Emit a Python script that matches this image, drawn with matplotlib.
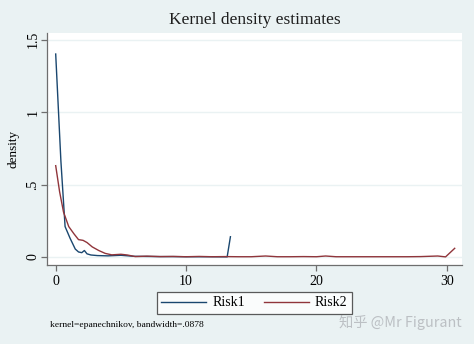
import matplotlib
matplotlib.use("Agg")
import matplotlib.pyplot as plt
from matplotlib.lines import Line2D

# Kernel density estimates of the two risk measures
risk1_x = [0.0, 0.4, 0.72, 1.1, 1.5, 1.75, 2.0, 2.2, 2.4, 2.7, 3.2, 4.0, 5.0,
           6.0, 7.0, 8.0, 9.0, 10.0, 11.0, 12.0, 13.15, 13.4]
risk1_y = [1.40, 0.66, 0.21, 0.13, 0.055, 0.035, 0.03, 0.045, 0.022, 0.014,
           0.01, 0.008, 0.012, 0.005, 0.004, 0.003, 0.003, 0.002, 0.002,
           0.002, 0.001, 0.14]

risk2_x = [0.0, 0.3, 0.6, 1.0, 1.4, 1.75, 2.1, 2.4, 2.8, 3.3, 3.8, 4.3, 5.0,
           5.5, 6.1, 7.0, 8.0, 9.0, 10.0, 11.0, 12.0, 13.0, 14.0, 15.0, 16.1,
           17.0, 18.0, 19.0, 20.0, 20.7, 21.5, 23.0, 24.0, 25.0, 26.0, 27.0,
           28.0, 29.3, 29.9, 30.6]
risk2_y = [0.63, 0.45, 0.31, 0.21, 0.16, 0.12, 0.115, 0.10, 0.07, 0.045,
           0.025, 0.015, 0.019, 0.014, 0.003, 0.006, 0.003, 0.004, 0.002,
           0.004, 0.002, 0.003, 0.002, 0.002, 0.007, 0.002, 0.002, 0.003,
           0.002, 0.007, 0.002, 0.002, 0.002, 0.002, 0.002, 0.002, 0.003,
           0.007, 0.001, 0.06]

series_names = ["Risk1", "Risk2"]
xticks = [0, 10, 20, 30]
yticks = [0, 0.5, 1, 1.5]
ytick_labels = ["0", ".5", "1", "1.5"]

title = "Kernel density estimates"
ylabel = "density"
note = "kernel=epanechnikov, bandwidth=.0878"

navy = "#1a476f"
maroon = "#90353b"
bg = "#eaf2f3"
serif = ["Liberation Serif", "DejaVu Serif"]

W, H = 474, 344
fig = plt.figure(figsize=(W / 100, H / 100), dpi=100, facecolor=bg)

left, right, top, bottom = 47, 462, 33, 265
ax = fig.add_axes([left / W, 1 - bottom / H, (right - left) / W, (bottom - top) / H])
ax.set_facecolor("white")

ax.plot(risk1_x, risk1_y, color=navy, lw=1.0, zorder=3)
ax.plot(risk2_x, risk2_y, color=maroon, lw=1.0, zorder=4)

ax.set_xlim(-0.667, 31.16)
ax.set_ylim(-0.055, 1.545)

ax.set_xticks(xticks)
ax.set_xticklabels([str(t) for t in xticks], fontfamily=serif, fontsize=10)
ax.set_yticks(yticks)
ax.set_yticklabels(ytick_labels, fontfamily=serif, fontsize=10,
                   rotation=90, va="center")
for y in yticks:
    ax.axhline(y, color=bg, lw=1.0, zorder=1)

for side in ("top", "right"):
    ax.spines[side].set_visible(False)
for side in ("left", "bottom"):
    ax.spines[side].set_color("#6e6e6e")
    ax.spines[side].set_linewidth(0.9)
ax.tick_params(axis="x", color="#6e6e6e", length=4, width=0.9,
               labelcolor="black", pad=3)
ax.tick_params(axis="y", color="#6e6e6e", length=4.5, width=0.9,
               labelcolor="black", pad=1)

ax.set_ylabel(ylabel, fontfamily=serif, fontsize=9.5)
ax.yaxis.set_label_coords((20 - left) / (right - left), 0.5)

fig.text(0.5 * (left + right) / W, 1 - 20 / H, title, ha="center", va="center",
         fontfamily=serif, fontsize=12.5, color="#1e1e1e")

handles = [Line2D([], [], color=navy, lw=1.0), Line2D([], [], color=maroon, lw=1.0)]
leg = fig.legend(handles, series_names, loc="center",
                 bbox_to_anchor=(254.5 / W, 1 - 303 / H), ncol=2,
                 prop={"family": serif, "size": 10}, frameon=True,
                 fancybox=False, edgecolor="#333333", handlelength=3.2,
                 columnspacing=1.4, handletextpad=0.45, borderpad=0.3)
leg.get_frame().set_linewidth(0.9)
leg.get_frame().set_facecolor("white")

fig.text(50 / W, 1 - 325 / H, note, ha="left", va="center",
         fontfamily=serif, fontsize=6.8, color="black")

fig.text(462 / W, 1 - 323 / H, "知乎 @Mr Figurant", ha="right", va="center",
         fontfamily=["Noto Sans CJK SC", "DejaVu Sans"], fontsize=10.3,
         color="#bcc0c4")

fig.savefig("out.png", dpi=100, facecolor=bg)
